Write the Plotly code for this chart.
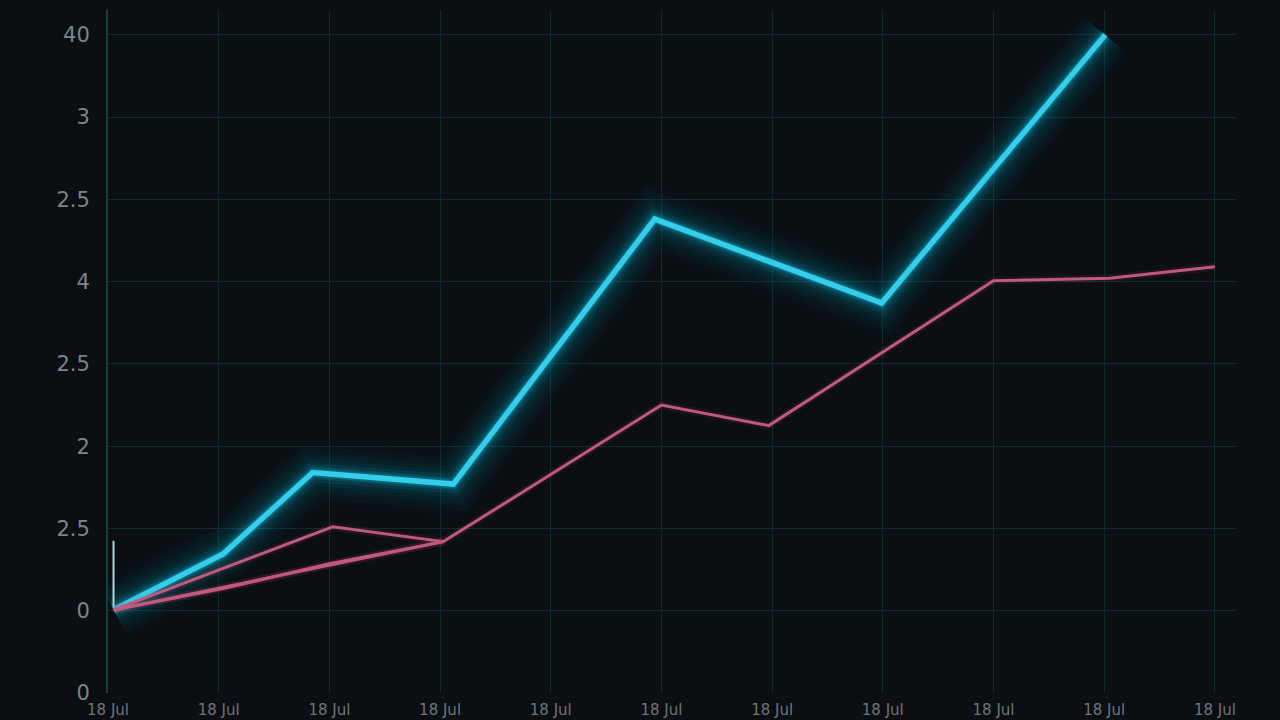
import plotly.graph_objects as go

# ---- data ----
x_ticks = [0, 1, 2, 3, 4, 5, 6, 7, 8, 9, 10]
x_ticktext = ["18 Jul"] * 11
y_ticks = [0, 1, 2, 3, 4, 5, 6, 7, 8]
y_ticktext = ["0", "0", "2.5", "2", "2.5", "4", "2.5", "3", "40"]

cyan_x = [0.05, 1.04, 1.85, 3.12, 4.94, 6.99, 9.01]
cyan_y = [1.01, 1.69, 2.68, 2.54, 5.76, 4.74, 8.0]

pink_x = [0.05, 3.03, 5.0, 5.97, 8.0, 9.05, 10.0]
pink_y = [1.01, 1.84, 3.50, 3.25, 5.01, 5.04, 5.18]

pink_upper_x = [0.05, 2.03, 3.03]
pink_upper_y = [1.01, 2.02, 1.84]

pink_lower_x = [0.05, 1.04, 2.0, 3.03]
pink_lower_y = [1.01, 1.27, 1.57, 1.84]

tick_x = [0.05, 0.05]
tick_y = [1.05, 1.85]

fig = go.Figure()

# cyan glow layers (soft, wide)
for w, a in [(64, 0.025), (52, 0.03), (42, 0.035), (34, 0.045),
             (26, 0.06), (19, 0.09), (13, 0.14), (9, 0.25)]:
    fig.add_trace(go.Scatter(x=cyan_x, y=cyan_y, mode="lines",
                             line=dict(color=f"rgba(10,185,225,{a})", width=w),
                             hoverinfo="skip", showlegend=False))
fig.add_trace(go.Scatter(x=cyan_x, y=cyan_y, mode="lines",
                         line=dict(color="#35cdea", width=5.5),
                         showlegend=False))

# pink lines (with faint glow)
for px, py in [(pink_lower_x, pink_lower_y), (pink_upper_x, pink_upper_y), (pink_x, pink_y)]:
    fig.add_trace(go.Scatter(x=px, y=py, mode="lines",
                             line=dict(color="rgba(200,80,120,0.10)", width=8),
                             hoverinfo="skip", showlegend=False))
    fig.add_trace(go.Scatter(x=px, y=py, mode="lines",
                             line=dict(color="#c05a7d", width=3),
                             showlegend=False))

# short light vertical tick at the origin
fig.add_trace(go.Scatter(x=tick_x, y=tick_y, mode="lines",
                         line=dict(color="#a9d6dc", width=2),
                         hoverinfo="skip", showlegend=False))

fig.update_layout(
    width=1280, height=720,
    paper_bgcolor="#0b0e12",
    plot_bgcolor="#0b0e12",
    margin=dict(l=108, r=43, t=10, b=27),
    showlegend=False,
    xaxis=dict(range=[0, 10.2], tickvals=x_ticks, ticktext=x_ticktext,
               showgrid=True, gridcolor="#10292a", gridwidth=1,
               zeroline=False, showline=False, automargin=False,
               ticks="outside", ticklen=3, tickcolor="#0b0e12",
               tickfont=dict(family="DejaVu Sans", size=15, color="#6f7679")),
    yaxis=dict(range=[0, 8.302], tickvals=y_ticks, ticktext=y_ticktext,
               showgrid=True, gridcolor="#10292a", gridwidth=1,
               zeroline=False, showline=True, linecolor="#16403b", linewidth=2,
               automargin=False, ticklabelstandoff=12,
               tickfont=dict(family="DejaVu Sans", size=21, color="#7d8489")),
)

fig.write_html("out.html",
               config={"displayModeBar": False},
               post_script="document.body.style.margin='0';document.body.style.background='#0b0e12';")
